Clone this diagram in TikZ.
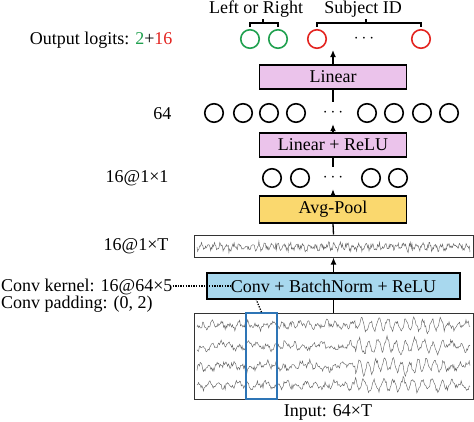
\documentclass[tikz,border=0pt]{standalone}
\usepackage{fontspec}
\setmainfont{Liberation Serif}
\usepackage{tikz}
\usetikzlibrary{calc,arrows.meta,backgrounds}
\definecolor{linpink}{HTML}{EBC3EB}
\definecolor{poolyellow}{HTML}{FAD86E}
\definecolor{convblue}{HTML}{A8D8EE}
\definecolor{winblue}{HTML}{2E75B6}
\definecolor{lrgreen}{HTML}{1FA04E}
\definecolor{idred}{HTML}{E3231F}
\newcommand{\thickness}{1.3pt}
\newcommand{\radius}{18.5pt}

\begin{document}
\begin{tikzpicture}[x=1pt,y=-1pt,font=\fontsize{18}{21}\selectfont,
  layer/.style={draw,line width=\thickness,minimum width=147pt,minimum height=24pt,inner sep=0pt},
  unit/.style={draw,circle,line width=1.6pt,minimum size=\radius,inner sep=0pt},
  gap/.style={minimum height=22pt,inner sep=0pt},
  strip/.style={draw=black!80,line width=1pt,minimum width=279pt,inner sep=0pt},
  trace/.style={black!60,line width=0.45pt},
  link/.style={line width=\thickness},
  arr/.style={line width=\thickness,-{Latex[length=7pt,width=6pt]}},
  hint/.style={line width=1.3pt,dash pattern=on 1.3pt off 1.3pt}]
\useasboundingbox (0,0) rectangle (474,421);
\pgfmathsetseed{11}
% output logits
\node[unit,draw=lrgreen] (g1) at (250,39) {};
\node[unit,draw=lrgreen] (g2) at (278,39) {};
\node[unit,draw=idred] (r1) at (317,39) {};
\node[unit,draw=idred] (r2) at (421,39) {};
\node (rdots) at (364,39) {$\cdots$};
\node[anchor=east] (outlbl) at (176,40) {Output logits: \textcolor{lrgreen}{2}+\textcolor{idred}{16}};
\node[anchor=base] (lrlbl) at (256,13) {Left or Right};
\node[anchor=base] (idlbl) at (363,13) {Subject ID};
\draw[line width=1.2pt] (g1.north |- 0,27) -- (g1.north |- 0,23) -- (g2.north |- 0,23) -- (g2.north |- 0,27);
\draw[line width=1.2pt] (263,23) -- (263,19);
\draw[line width=1.2pt] (r1.north |- 0,27) -- (r1.north |- 0,23) -- (r2.north |- 0,23) -- (r2.north |- 0,27);
\draw[line width=1.2pt] (366,23) -- (366,19);
\coordinate (otop) at (333,50);
% linear
\node[layer,fill=linpink] (lin) at (333,77) {Linear};
\draw[arr] (lin.north) -- (otop);
% hidden 64
\node[anchor=east] (hlbl) at (175,114) {64};
\node[unit] (h1) at (214,113) {};
\node[unit] (h2) at (243,113) {};
\node[unit] (h3) at (269,113) {};
\node[unit] (h4) at (296,113) {};
\node[gap] (hdots) at (333,113) {$\cdots$};
\node[unit] (h5) at (367,113) {};
\node[unit] (h6) at (394,113) {};
\node[unit] (h7) at (422,113) {};
\node[unit] (h8) at (449,113) {};
\draw[link] (lin.south) -- (hdots.north);
% linear + relu
\node[layer,fill=linpink] (linrelu) at (333,145) {Linear + ReLU};
\draw[arr] (linrelu.north) -- (hdots.south);
% pooled 16
\node[anchor=east] (plbl) at (172,178) {16@1×1};
\node[unit] (p1) at (272,178) {};
\node[unit] (p2) at (300,178) {};
\node[gap] (pdots) at (333,178) {$\cdots$};
\node[unit] (p3) at (371,178) {};
\node[unit] (p4) at (398,178) {};
\draw[link] (linrelu.south) -- (pdots.north);
% avg-pool
\node[layer,fill=poolyellow,minimum height=27pt] (pool) at (333,209.5) {Avg-Pool};
\draw[arr] (pool.north) -- (pdots.south);
% feature map
\node[anchor=east] (flbl) at (172,246) {16@1×T};
\node[strip,minimum height=22pt] (feat) at (333.5,246) {};
\draw[trace] plot[domain=197:470,samples=420] (\x,{247+(3+3*rand*rand)*sin(57*(\x-197)+60*rand)+1.5*rand});
\draw[link] (pool.south) -- (feat.north);
% conv
\node[layer,fill=convblue,minimum width=253pt,minimum height=26pt] (conv) at (333.5,286) {Conv + BatchNorm + ReLU};
\draw[arr] (conv.north) -- (feat.south);
\node[anchor=north west,align=left,inner sep=0pt,font=\fontsize{18}{16.5}\selectfont] (convlbl) at (1,279) {Conv kernel: 16@64×5\\Conv padding: (0, 2)};
\draw[hint] (convlbl.east |- conv.west) -- (conv.text |- conv.west);
% input
\node[strip,minimum height=86pt] (input) at (333.5,356) {};
\draw[trace] plot[domain=197:470,samples=340] (\x,{325+(2.5+3*(\x>355)*(\x<445))*sin(41*(\x-197))+1.5*sin(13*(\x-197))+2.5*rand});
\draw[trace] plot[domain=197:470,samples=340] (\x,{346+(2.5+3.5*(\x>355)*(\x<445))*sin(39*(\x-197)+60)+2*sin(11*(\x-197))+2.5*rand});
\draw[trace] plot[domain=197:470,samples=340] (\x,{366+(2.5+3.5*(\x>355)*(\x<445))*sin(43*(\x-197)+120)+2*sin(9*(\x-197))+2.5*rand});
\draw[trace] plot[domain=197:470,samples=340] (\x,{385+(2.5+3*(\x>355)*(\x<445))*sin(37*(\x-197)+200)+1.5*sin(15*(\x-197))+2.5*rand});
\node[draw=winblue,line width=1.6pt,minimum width=31pt,minimum height=86pt,inner sep=0pt] (win) at (261.5,356) {};
\coordinate (kfoot) at (256,299);
\draw[hint] (win.north) -- (kfoot);
\draw[link] (input.north) -- (conv.south);
\node (inlbl) at (328,412) {Input: 64×T};
\end{tikzpicture}
\end{document}
